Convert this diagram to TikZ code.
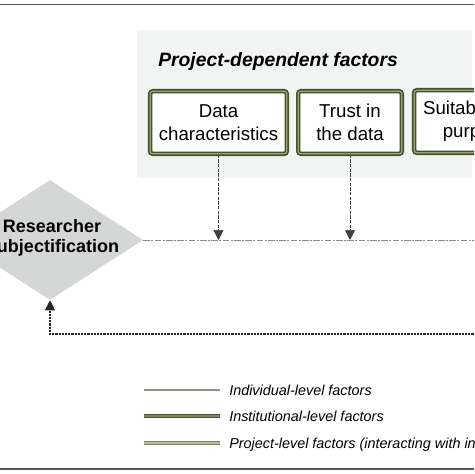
\documentclass[tikz,border=0pt]{standalone}
\usepackage{fontspec}
\setmainfont{Liberation Sans}
\usetikzlibrary{shapes.geometric,arrows.meta}

\definecolor{panelgray}{HTML}{F2F3F3}
\definecolor{diagray}{HTML}{D5D6D6}
\definecolor{olivedark}{HTML}{46522E}
\definecolor{olivelight}{HTML}{97A575}
\definecolor{olivemid}{HTML}{7A8660}
\definecolor{olivepale}{HTML}{B4BC9E}
\definecolor{indivgray}{HTML}{8E9282}
\definecolor{rulegray}{HTML}{555555}

\tikzset{
  factor/.style={draw=olivedark, double=olivelight, line width=1.2pt,
    double distance=0.9pt, rounded corners=2pt, fill=white, align=center,
    font=\fontsize{14}{17.5}\selectfont, inner sep=0pt, minimum height=47pt},
  feed/.style={draw=black!75, line width=0.5pt, dash pattern=on 2.5pt off 1pt,
    -{Triangle[width=7.5pt,length=7.5pt]}},
  mainline/.style={draw=black!45, line width=0.6pt,
    dash pattern=on 5pt off 1pt on 1.5pt off 1pt},
  loopline/.style={draw=black!85, line width=0.8pt, dash pattern=on 1.6pt off 0.8pt,
    -{Triangle[width=7.5pt,length=7.5pt]}},
  legtext/.style={anchor=base west, inner sep=0pt,
    font=\fontsize{10.8}{13}\selectfont\itshape},
}

\begin{document}
\begin{tikzpicture}[x=0.75pt,y=-0.75pt]
\useasboundingbox (0,0) rectangle (474,474);
\clip (0,0) rectangle (474,474);

% rules top and bottom
\draw[rulegray, line width=1.2pt] (0,4.5) -- (474,4.5);
\draw[rulegray, line width=1.2pt] (0,469) -- (474,469);

% --- project-dependent factors ---
\fill[panelgray] (137,30) rectangle (472,178);
\node[anchor=base west, inner sep=0pt, font=\fontsize{14.5}{17}\selectfont\bfseries\itshape]
  (projtitle) at (158,67) {Project-dependent factors};

\node[factor, minimum width=102.5pt] (data) at (218.5,122.5) {Data\\characteristics};
\node[factor, minimum width=77.7pt] (trust) at (350,122.5) {Trust in\\the data};
\node[factor, minimum width=93.5pt] (suit) at (476.5,121.5) {Suitability for\\purpose};

% --- researcher subjectification ---
\node[diamond, fill=diagray, aspect=1.55, inner sep=0pt,
  minimum width=139.5pt, minimum height=90pt] (dia) at (50,240) {};
\node[align=center, inner sep=0pt, font=\fontsize{13.5}{15.5}\selectfont\bfseries]
  (diatext) at (52,238) {Researcher\\Subjectification};

\coordinate (mainend) at (480,240);
\coordinate (loopend) at (480,334);

\draw[mainline] (dia.east) -- (mainend);
\draw[feed] (data.south) -- (data.south |- dia.east);
\draw[feed] (trust.south) -- (trust.south |- dia.east);
\draw[loopline] (loopend) -| (dia.south);

% --- legend ---
\draw[indivgray, line width=1.1pt] (144,390) -- (220,390);
\draw[draw=olivedark, double=olivelight!85!black, line width=1.1pt, double distance=0.9pt] (144,416) -- (220,416);
\draw[draw=olivemid, double=olivepale, line width=1.1pt, double distance=0.9pt] (144,443) -- (220,443);

\node[legtext] (legindiv) at (229,395) {Individual-level factors};
\node[legtext] (leginst) at (229,421) {Institutional-level factors};
\node[legtext] (legproj) at (229,448) {Project-level factors (interacting with individual-level factors)};

\end{tikzpicture}
\end{document}
